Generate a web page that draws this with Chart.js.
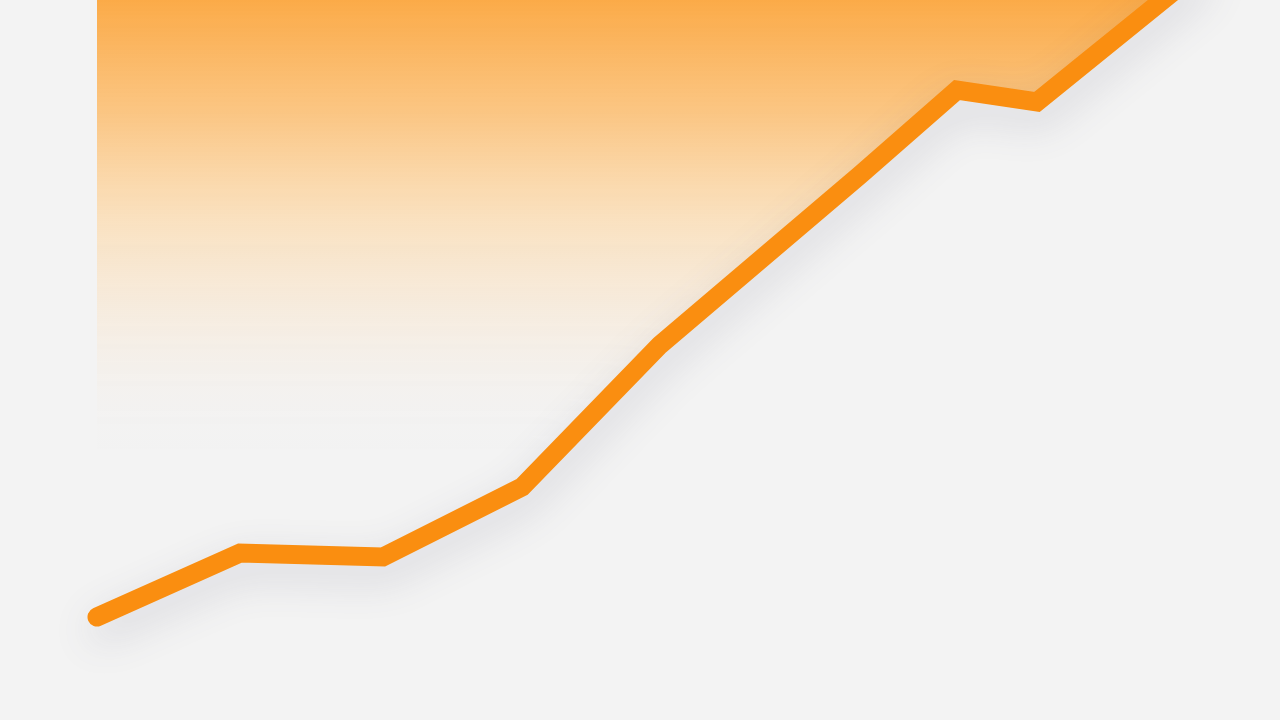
<!doctype html>
<html>
	<head>
		<meta charset="utf-8" />
		<title>Growth line</title>
		<script src="https://cdn.jsdelivr.net/npm/chart.js@4"></script>
		<style>
			html,
			body {
				margin: 0;
				padding: 0;
				background: #f3f3f3;
			}

			#wrap {
				position: relative;
				width: 1280px;
				height: 720px;
			}
		</style>
	</head>

	<body>
		<div id="wrap"><canvas id="growthChart"></canvas></div>

		<script>
			// positions along the period axis and the values reached there
			const periods = [97, 240, 383, 522, 660, 860, 957, 1037, 1200];
			const values = [103, 167, 163, 233, 375, 545, 630, 618, 750];

			const lineColor = "#fa8e10";

			// soft shadow under the line only (filler has already drawn by then)
			const lineShadow = {
				id: "lineShadow",
				beforeDatasetDraw(chart) {
					const ctx = chart.ctx;
					ctx.save();
					ctx.shadowColor = "rgba(80, 80, 110, 0.2)";
					ctx.shadowBlur = 40;
					ctx.shadowOffsetX = 2;
					ctx.shadowOffsetY = 14;
				},
				afterDatasetDraw(chart) {
					chart.ctx.restore();
				},
			};

			function fillGradient(context) {
				const chart = context.chart;
				const area = chart.chartArea;
				if (!area) return "rgba(251,170,72,0.5)";
				const g = chart.ctx.createLinearGradient(0, area.top, 0, area.bottom);
				g.addColorStop(0, "rgba(251, 166, 62, 0.95)");
				g.addColorStop(0.15, "rgba(252, 188, 108, 0.85)");
				g.addColorStop(0.3, "rgba(252, 218, 172, 0.75)");
				g.addColorStop(0.45, "rgba(248, 232, 212, 0.55)");
				g.addColorStop(0.63, "rgba(243, 243, 243, 0)");
				g.addColorStop(1, "rgba(243, 243, 243, 0)");
				return g;
			}

			const ctx = document.getElementById("growthChart").getContext("2d");
			new Chart(ctx, {
				type: "line",
				data: {
					datasets: [
						{
							data: periods.map((p, i) => ({ x: p, y: values[i] })),
							borderColor: lineColor,
							borderWidth: 19,
							borderCapStyle: "round",
							borderJoinStyle: "miter",
							pointRadius: 0,
							tension: 0,
							fill: "end",
							backgroundColor: fillGradient,
						},
					],
				},
				options: {
					responsive: true,
					maintainAspectRatio: false,
					animation: false,
					layout: { padding: 0 },
					plugins: {
						legend: { display: false },
						tooltip: { enabled: false },
					},
					scales: {
						x: { type: "linear", min: 0, max: 1280, display: false },
						y: { min: 0, max: 720, display: false },
					},
				},
				plugins: [lineShadow],
			});
		</script>
	</body>
</html>
